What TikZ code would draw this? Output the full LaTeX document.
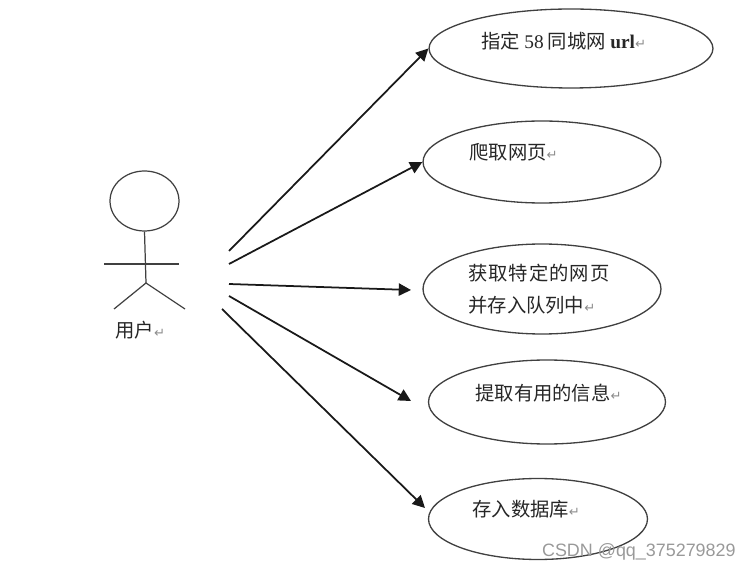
\documentclass[tikz,border=0pt]{standalone}
\usepackage{fontspec}
\setmainfont{Liberation Serif}
\newfontfamily\cjk{Noto Sans CJK SC}[BoldFont={Noto Sans CJK SC}]
\newfontfamily\markfont{DejaVu Sans}
\newfontfamily\wmfont{Liberation Sans}
\newcommand{\retmark}{{\markfont\fontsize{7.5pt}{7.5pt}\selectfont\textcolor{black!45}{↵}}}
\usetikzlibrary{arrows.meta,shapes.geometric}
\tikzset{
	usecase/.style={draw=black!75,line width=0.75pt,ellipse,inner sep=0pt},
	caselabel/.style={inner sep=0pt,anchor=west,align=left,font=\cjk\fontsize{11pt}{18pt}\selectfont,color=black!85},
	assoc/.style={draw=black!90,line width=1pt,-{Triangle[length=7pt,width=7pt]}},
	stickline/.style={draw=black!75,line width=0.7pt},
}
\begin{document}
\begin{tikzpicture}[x=0.02cm,y=-0.02cm]
	\useasboundingbox (0,0) rectangle (750,570);
	% use cases
	\node[usecase,minimum width=5.68cm,minimum height=1.58cm] (fetchurl) at (571,48.5) {};
	\node[usecase,minimum width=4.76cm,minimum height=1.64cm] (crawl) at (542,162) {};
	\node[usecase,minimum width=4.76cm,minimum height=1.80cm] (queue) at (542,289) {};
	\node[usecase,minimum width=4.74cm,minimum height=1.68cm] (extract) at (547,402) {};
	\node[usecase,minimum width=4.38cm,minimum height=1.62cm] (store) at (538,519) {};
	\node[caselabel] (fetchurltext) at (481,41) {指定 {\rmfamily 58} 同城网 {\rmfamily\bfseries url}\retmark};
	\node[caselabel] (crawltext) at (469,152) {爬取网页\retmark};
	\node[caselabel] (queuetext) at (468,289) {{\addfontfeature{LetterSpace=5}获取特定的网页}\\并存入队列中\retmark};
	\node[caselabel] (extracttext) at (475,393) {提取有用的信息\retmark};
	\node[caselabel] (storetext) at (472,509) {存入数据库\retmark};
	% actor
	\node[draw=black!75,line width=0.7pt,ellipse,minimum width=1.38cm,minimum height=1.20cm,inner sep=0pt] (head) at (144.5,201) {};
	\coordinate (hip) at (146,283);
	\coordinate (armleft) at (104,264);
	\coordinate (armright) at (179,264);
	\coordinate (footleft) at (114,309);
	\coordinate (footright) at (185,309);
	\draw[stickline] (head.south) -- (hip);
	\draw[stickline] (armleft) -- (armright);
	\draw[stickline] (footleft) -- (hip) -- (footright);
	\node[inner sep=0pt,anchor=west,font=\cjk\fontsize{11pt}{12pt}\selectfont,color=black!85] (actorname) at (115,330) {用户\retmark};
	% associations
	\coordinate (from1) at (229,251);
	\coordinate (from2) at (229,264);
	\coordinate (from3) at (229,284);
	\coordinate (from4) at (229,296);
	\coordinate (from5) at (222,309);
	\coordinate (to3) at (411,290);
	\coordinate (to4) at (411,401);
	\coordinate (to5) at (425,508);
	\draw[assoc] (from1) -- (fetchurl.west);
	\draw[assoc] (from2) -- (crawl.west);
	\draw[assoc] (from3) -- (to3);
	\draw[assoc] (from4) -- (to4);
	\draw[assoc] (from5) -- (to5);
	% watermark
	\node[inner sep=0pt,anchor=east,font=\wmfont\fontsize{10.2pt}{12pt}\selectfont,color=black!40] (csdnmark) at (736,552) {CSDN @qq\_375279829};
\end{tikzpicture}
\end{document}
